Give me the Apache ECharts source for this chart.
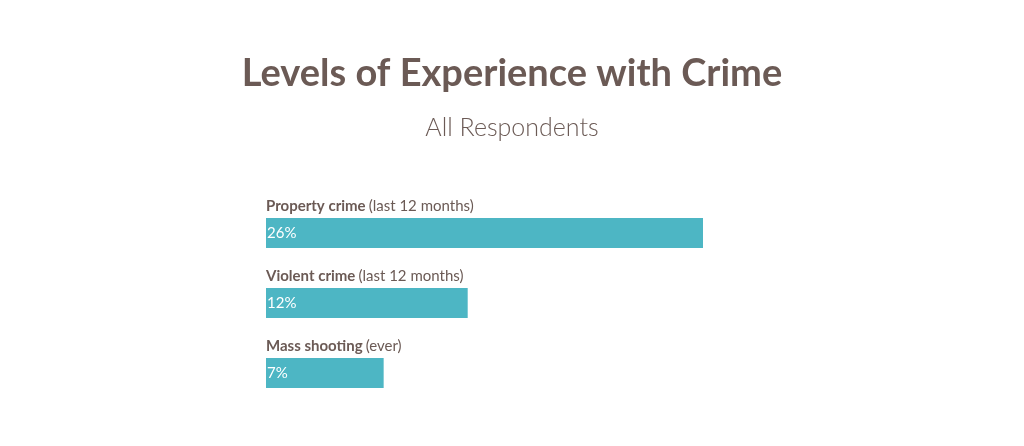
<!DOCTYPE html>
<html>
<head>
<meta charset="utf-8">
<script src="https://cdn.jsdelivr.net/npm/echarts@6/dist/echarts.min.js"></script>
<style>html,body{margin:0;background:#fff}#chart{width:1024px;height:446px}</style>
</head>
<body>
<div id="chart"></div>
<script>
const categories = ['Property crime', 'Violent crime', 'Mass shooting']
const qualifiers = ['(last 12 months)', '(last 12 months)', '(ever)']
const values = [26, 12, 7]

const brown = '#6b5a55'
const chart = echarts.init(document.getElementById('chart'))

chart.setOption({
  backgroundColor: '#fff',
  textStyle: { fontFamily: 'Lato' },
  title: [
    {
      text: 'Levels of Experience with Crime',
      left: 'center', top: 50,
      textStyle: { fontSize: 38, fontWeight: 'bold', color: brown, fontFamily: 'Lato' }
    },
    {
      text: 'All Respondents',
      left: 'center', top: 110,
      textStyle: { fontSize: 25, fontWeight: 300, color: brown, fontFamily: 'Lato' }
    }
  ],
  grid: { left: 266, top: 198, width: 437, height: 210 },
  xAxis: { type: 'value', min: 0, max: 26, show: false },
  yAxis: {
    type: 'category',
    inverse: true,
    data: categories,
    axisLine: { show: false },
    axisTick: { show: false },
    axisLabel: {
      inside: true,
      margin: 0,
      align: 'left',
      verticalAlign: 'bottom',
      padding: [0, 0, 19, 0],
      formatter: (v, i) => '{b|' + v + '} {n|' + qualifiers[i] + '}',
      rich: {
        b: { fontSize: 15, fontWeight: 'bold', color: brown, fontFamily: 'Lato' },
        n: { fontSize: 15, color: brown, fontFamily: 'Lato' }
      }
    }
  },
  series: [{
    type: 'bar',
    data: values,
    barWidth: 30,
    itemStyle: { color: '#4db6c4' },
    label: {
      show: true,
      position: 'insideLeft',
      offset: [-4, 0],
      formatter: '{c}%',
      color: '#fff',
      fontSize: 15,
      fontFamily: 'Lato'
    }
  }]
})
</script>
</body>
</html>
